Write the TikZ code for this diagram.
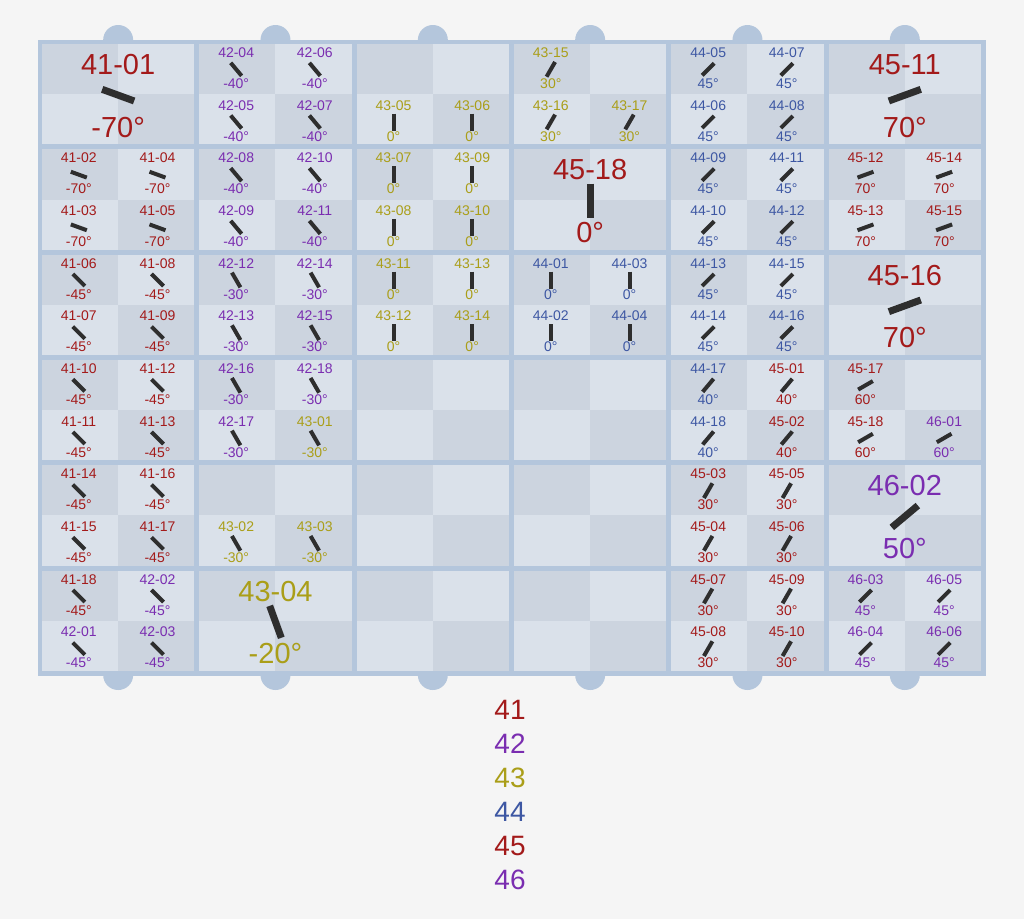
\documentclass[tikz,border=0pt]{standalone}
\usepackage{fontspec}
\setmainfont{Liberation Sans}
\definecolor{bgc}{HTML}{F5F5F5}
\definecolor{frm}{HTML}{B4C6DC}
\definecolor{lite}{HTML}{DAE1EA}
\definecolor{dark}{HTML}{CCD4DF}
\definecolor{cA}{HTML}{A31A1A}
\definecolor{cB}{HTML}{7A2DB0}
\definecolor{cC}{HTML}{AA9E18}
\definecolor{cD}{HTML}{3D57A3}
\definecolor{glyph}{HTML}{2E2E2E}
\tikzset{
  sl/.style={font=\fontsize{14}{14}\selectfont, inner sep=0pt},
  bl/.style={font=\fontsize{29}{29}\selectfont, inner sep=0pt},
  lg/.style={font=\fontsize{28}{28}\selectfont, inner sep=0pt},
  sg/.style={draw=glyph, line width=4pt},
  bgl/.style={draw=glyph, line width=7pt},
}
\newcommand\subcell[7]{%
  \pgfmathsetmacro\cx{39.5+(#1-1)*157.33+(#3+0.5)*78.667}%
  \pgfmathsetmacro\cy{41.5+(#2-1)*105.33+(#4+0.5)*52.667}%
  \coordinate (g#5) at (\cx,\cy+1.5);
  \node[sl,text=#7] (t#5) at (\cx,\cy-15) {#5};
  \node[sl,text=#7] (d#5) at (\cx,\cy+16) {#6°};
  \draw[sg] ([shift={({8.5*sin(#6)},{-8.5*cos(#6)})}]g#5) -- ([shift={({-8.5*sin(#6)},{8.5*cos(#6)})}]g#5);
}
\newcommand\four[8]{%
  \subcell{#1}{#2}{0}{0}{#3}{#7}{#8}
  \subcell{#1}{#2}{1}{0}{#4}{#7}{#8}
  \subcell{#1}{#2}{0}{1}{#5}{#7}{#8}
  \subcell{#1}{#2}{1}{1}{#6}{#7}{#8}
}
\newcommand\bigcell[5]{%
  \pgfmathsetmacro\cx{39.5+(#1-0.5)*157.33}%
  \pgfmathsetmacro\cy{41.5+(#2-0.5)*105.33}%
  \coordinate (G#3) at (\cx,\cy+1);
  \node[bl,text=#5] (T#3) at (\cx,\cy-29.5) {#3};
  \node[bl,text=#5] (D#3) at (\cx,\cy+33) {#4°};
  \draw[bgl] ([shift={({17*sin(#4)},{-17*cos(#4)})}]G#3) -- ([shift={({-17*sin(#4)},{17*cos(#4)})}]G#3);
}
\begin{document}
\begin{tikzpicture}[x=1pt,y=-1pt]
\useasboundingbox (0,0) rectangle (1024,919);
\fill[bgc] (0,0) rectangle (1024,919);
% tabs
\foreach \k in {1,...,6}{
  \pgfmathsetmacro\tx{39.5+(\k-0.5)*157.33}
  \fill[frm] (\tx,40) circle (15);
  \fill[frm] (\tx,675) circle (15);
}
% frame
\fill[frm] (38,39.5) rectangle (985.5,675.5);
% cells
\foreach \c in {1,...,6}{
  \foreach \r in {1,...,6}{
    \pgfmathsetmacro\xl{39.5+(\c-1)*157.33+2.4}
    \pgfmathsetmacro\xr{39.5+\c*157.33-2.4}
    \pgfmathsetmacro\xm{39.5+(\c-0.5)*157.33}
    \pgfmathsetmacro\yt{41.5+(\r-1)*105.33+2.4}
    \pgfmathsetmacro\yb{41.5+\r*105.33-2.4}
    \pgfmathsetmacro\ym{41.5+(\r-0.5)*105.33}
    \fill[lite] (\xl,\yt) rectangle (\xr,\yb);
    \fill[dark] (\xl,\yt) rectangle (\xm,\ym);
    \fill[dark] (\xm,\ym) rectangle (\xr,\yb);
  }
}
% row 1
\bigcell{1}{1}{41-01}{-70}{cA}
\four{2}{1}{42-04}{42-06}{42-05}{42-07}{-40}{cB}
\subcell{3}{1}{0}{1}{43-05}{0}{cC}
\subcell{3}{1}{1}{1}{43-06}{0}{cC}
\subcell{4}{1}{0}{0}{43-15}{30}{cC}
\subcell{4}{1}{0}{1}{43-16}{30}{cC}
\subcell{4}{1}{1}{1}{43-17}{30}{cC}
\four{5}{1}{44-05}{44-07}{44-06}{44-08}{45}{cD}
\bigcell{6}{1}{45-11}{70}{cA}
% row 2
\four{1}{2}{41-02}{41-04}{41-03}{41-05}{-70}{cA}
\four{2}{2}{42-08}{42-10}{42-09}{42-11}{-40}{cB}
\four{3}{2}{43-07}{43-09}{43-08}{43-10}{0}{cC}
\bigcell{4}{2}{45-18}{0}{cA}
\four{5}{2}{44-09}{44-11}{44-10}{44-12}{45}{cD}
\four{6}{2}{45-12}{45-14}{45-13}{45-15}{70}{cA}
% row 3
\four{1}{3}{41-06}{41-08}{41-07}{41-09}{-45}{cA}
\four{2}{3}{42-12}{42-14}{42-13}{42-15}{-30}{cB}
\four{3}{3}{43-11}{43-13}{43-12}{43-14}{0}{cC}
\four{4}{3}{44-01}{44-03}{44-02}{44-04}{0}{cD}
\four{5}{3}{44-13}{44-15}{44-14}{44-16}{45}{cD}
\bigcell{6}{3}{45-16}{70}{cA}
% row 4
\four{1}{4}{41-10}{41-12}{41-11}{41-13}{-45}{cA}
\subcell{2}{4}{0}{0}{42-16}{-30}{cB}
\subcell{2}{4}{1}{0}{42-18}{-30}{cB}
\subcell{2}{4}{0}{1}{42-17}{-30}{cB}
\subcell{2}{4}{1}{1}{43-01}{-30}{cC}
\subcell{5}{4}{0}{0}{44-17}{40}{cD}
\subcell{5}{4}{1}{0}{45-01}{40}{cA}
\subcell{5}{4}{0}{1}{44-18}{40}{cD}
\subcell{5}{4}{1}{1}{45-02}{40}{cA}
\subcell{6}{4}{0}{0}{45-17}{60}{cA}
\subcell{6}{4}{0}{1}{45-18}{60}{cA}
\subcell{6}{4}{1}{1}{46-01}{60}{cB}
% row 5
\four{1}{5}{41-14}{41-16}{41-15}{41-17}{-45}{cA}
\subcell{2}{5}{0}{1}{43-02}{-30}{cC}
\subcell{2}{5}{1}{1}{43-03}{-30}{cC}
\four{5}{5}{45-03}{45-05}{45-04}{45-06}{30}{cA}
\bigcell{6}{5}{46-02}{50}{cB}
% row 6
\subcell{1}{6}{0}{0}{41-18}{-45}{cA}
\subcell{1}{6}{1}{0}{42-02}{-45}{cB}
\subcell{1}{6}{0}{1}{42-01}{-45}{cB}
\subcell{1}{6}{1}{1}{42-03}{-45}{cB}
\bigcell{2}{6}{43-04}{-20}{cC}
\four{5}{6}{45-07}{45-09}{45-08}{45-10}{30}{cA}
\four{6}{6}{46-03}{46-05}{46-04}{46-06}{45}{cB}
% legend
\node[lg,text=cA] (L41) at (510,709.5) {41};
\node[lg,text=cB] (L42) at (510,743.6) {42};
\node[lg,text=cC] (L43) at (510,777.7) {43};
\node[lg,text=cD] (L44) at (510,811.8) {44};
\node[lg,text=cA] (L45) at (510,845.9) {45};
\node[lg,text=cB] (L46) at (510,880) {46};
\end{tikzpicture}
\end{document}
